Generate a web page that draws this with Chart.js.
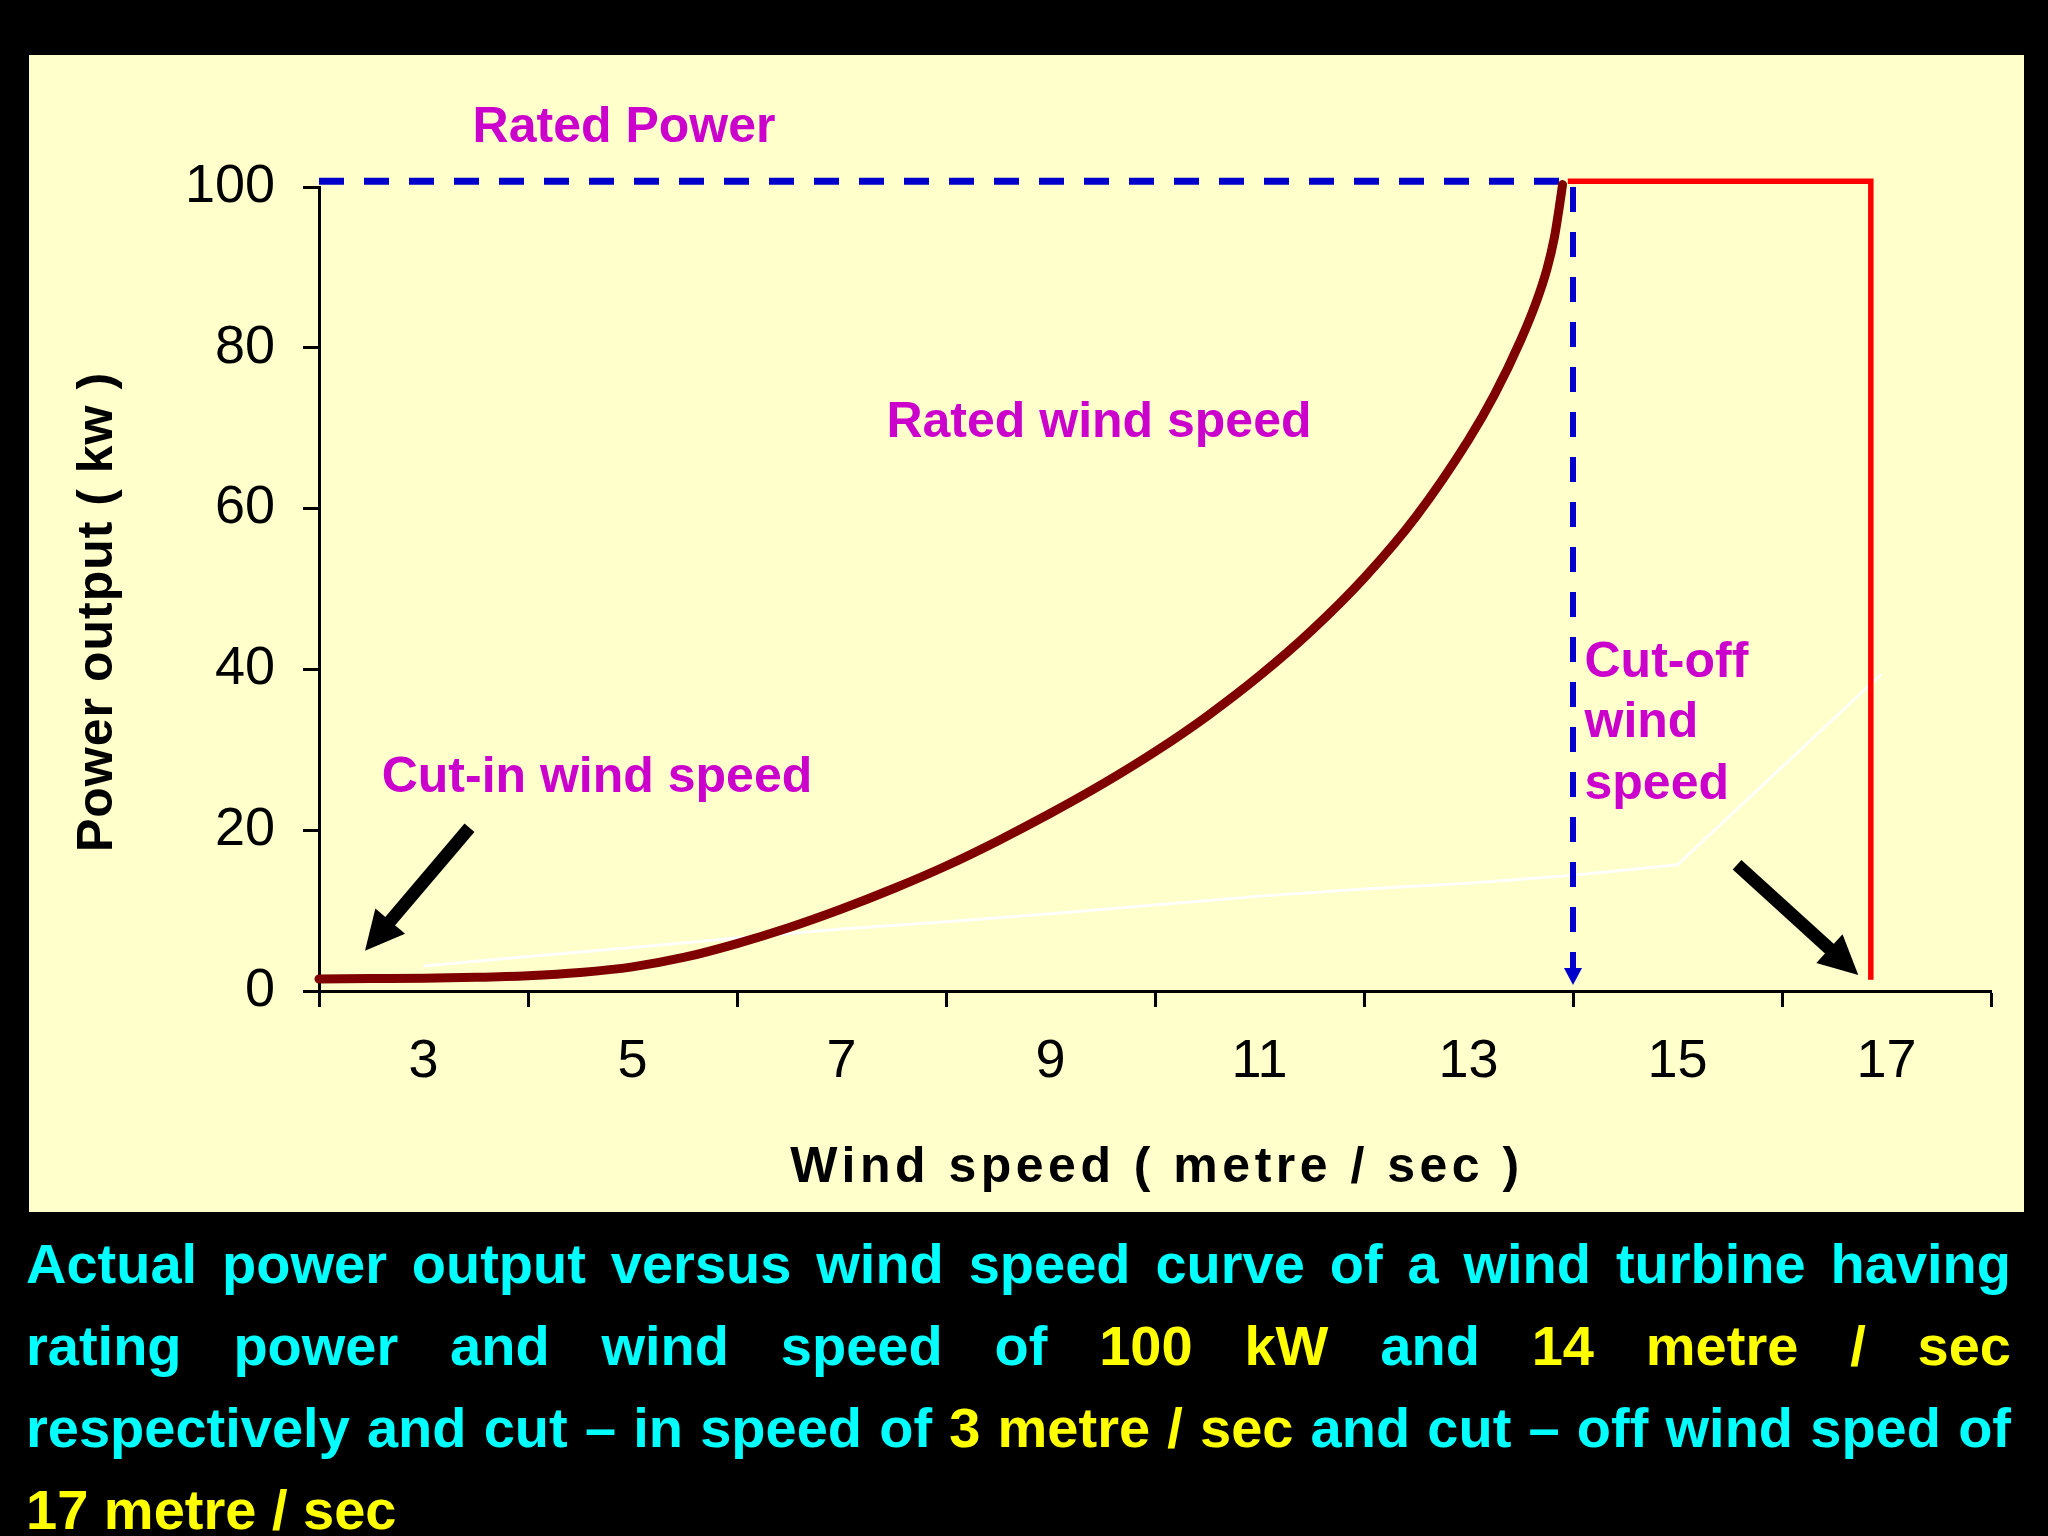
<!DOCTYPE html>
<html><head><meta charset="utf-8">
<script src="https://cdn.jsdelivr.net/npm/chart.js@4.4.0/dist/chart.umd.min.js"></script>
<style>
html,body{margin:0;padding:0;background:#000;width:2048px;height:1536px;overflow:hidden;}
#panel{position:absolute;left:29px;top:55px;width:1995px;height:1157px;background:#ffffcc;}
#chart{display:block;}
#caption{position:absolute;left:26px;top:1223px;width:1985px;font-family:"Liberation Sans",Arial,sans-serif;font-weight:bold;font-size:56px;line-height:82px;color:#00ffff;}
#caption .l{text-align:justify;text-align-last:justify;}
#caption .last{text-align:left;}
#caption .y{color:#ffff00;}
</style>
</head><body>
<div id="panel"><canvas id="chart" width="1995" height="1157"></canvas></div>
<div id="caption">
<div class="l">Actual power output versus wind speed curve of a wind turbine having</div>
<div class="l">rating power and wind speed of <span class="y">100 kW</span> and <span class="y">14 metre / sec</span></div>
<div class="l">respectively and cut – in speed of <span class="y">3 metre / sec</span> and cut – off wind sped of</div>
<div class="last"><span class="y">17 metre / sec</span></div>
</div>
<script>
// ---- data ----
const xTickValues = [3, 5, 7, 9, 11, 13, 15, 17];
const windSpeed   = [2, 2.5, 3, 3.5, 4, 4.5, 5, 5.5, 6, 6.5, 7, 7.5, 8, 8.5, 9, 9.5, 10, 10.5, 11, 11.5, 12, 12.5, 13, 13.25, 13.5, 13.65, 13.75, 13.82, 13.87, 13.9];
const powerOutput = [1.5, 1.55, 1.6, 1.7, 1.9, 2.3, 3.0, 4.2, 5.9, 7.9, 10.2, 12.75, 15.55, 18.7, 22.1, 25.75, 29.75, 34.2, 39.2, 44.85, 51.35, 59.05, 68.55, 74.2, 80.95, 85.75, 89.75, 93.6, 97.6, 100.3];
const ratedPowerX = [2, 13.9];
const ratedPowerY = [100.7, 100.7];
const ratedSpeedX = [14, 14];
const ratedSpeedY = [100, 0.75];
const cutOffX = [13.95, 16.85, 16.85];
const cutOffY = [100.7, 100.7, 1.4];
const faintX = [3, 4, 5, 6, 7, 8, 9, 10, 11, 12, 13, 14, 15, 16.95];
const faintY = [3.1, 4.3, 5.4, 6.6, 7.7, 8.6, 9.6, 10.7, 11.8, 12.7, 13.4, 14.4, 15.7, 39.4];
const cutInArrowX = [3.44, 2.44];
const cutInArrowY = [20.3, 5.0];
const cutOffArrowX = [15.57, 16.73];
const cutOffArrowY = [15.7, 2.0];

const notes = [
  {text: 'Rated Power', x: 3.47, y: 105.6},
  {text: 'Rated wind speed', x: 7.43, y: 68.9},
  {text: 'Cut-in wind speed', x: 2.60, y: 24.75},
  {text: 'Cut-off', x: 14.11, y: 39.05},
  {text: 'wind', x: 14.11, y: 31.6},
  {text: 'speed', x: 14.11, y: 23.9}
];

const FONT = '"Liberation Sans", Arial, Helvetica, sans-serif';
function pts(xs, ys) { return xs.map((v, i) => ({x: v, y: ys[i]})); }

function drawArrow(ctx, x1, y1, x2, y2, shaftW, headL, headW, color) {
  const a = Math.atan2(y2 - y1, x2 - x1);
  const c = Math.cos(a), s = Math.sin(a);
  const bx = x2 - headL * c, by = y2 - headL * s;
  ctx.strokeStyle = color; ctx.fillStyle = color;
  if (shaftW > 0) {
    ctx.lineWidth = shaftW; ctx.lineCap = 'butt'; ctx.setLineDash([]);
    ctx.beginPath(); ctx.moveTo(x1, y1); ctx.lineTo(bx + c, by + s); ctx.stroke();
  }
  ctx.beginPath();
  ctx.moveTo(x2, y2);
  ctx.lineTo(bx - s * headW / 2, by + c * headW / 2);
  ctx.lineTo(bx + s * headW / 2, by - c * headW / 2);
  ctx.closePath(); ctx.fill();
}

const overlay = {
  id: 'overlay',
  afterDatasetsDraw(chart) {
    const ctx = chart.ctx, xs = chart.scales.x, ys = chart.scales.y, a = chart.chartArea;
    ctx.save();
    chart.data.datasets.forEach((ds, i) => {
      const p = chart.getDatasetMeta(i).data;
      if (ds.arrowHead) {
        const p1 = p[p.length - 2], p2 = p[p.length - 1];
        drawArrow(ctx, p1.x, p1.y, p2.x, p2.y, 0, ds.arrowHead.length, ds.arrowHead.width, ds.borderColor);
      }
      if (ds.blackArrow) {
        drawArrow(ctx, p[0].x, p[0].y, p[1].x, p[1].y, 13, 39, 39, '#000000');
      }
    });
    // annotations
    ctx.font = 'bold 50px ' + FONT;
    ctx.fillStyle = '#cc00cc';
    ctx.textAlign = 'left'; ctx.textBaseline = 'alphabetic';
    notes.forEach(n => ctx.fillText(n.text, xs.getPixelForValue(n.x), ys.getPixelForValue(n.y)));
    // axis titles
    ctx.fillStyle = '#000000';
    ctx.font = 'bold 50px ' + FONT;
    ctx.letterSpacing = '4.5px';
    ctx.textAlign = 'center';
    ctx.fillText('Wind speed ( metre / sec )', (a.left + a.right) / 2 + 2, a.bottom + 191);
    ctx.letterSpacing = '1px';
    ctx.translate(a.left - 207, (a.top + a.bottom) / 2 + 23);
    ctx.rotate(-Math.PI / 2);
    ctx.fillText('Power output ( kw )', 0, 0);
    ctx.restore();
  }
};

const lineBase = {showLine: true, pointRadius: 0, pointHoverRadius: 0, clip: false, fill: false};

new Chart(document.getElementById('chart'), {
  type: 'scatter',
  data: {
    datasets: [
      Object.assign({}, lineBase, {label: 'Power output', data: pts(windSpeed, powerOutput),
        borderColor: '#7f0000', borderWidth: 9, cubicInterpolationMode: 'monotone', borderCapStyle: 'round', borderJoinStyle: 'round'}),
      Object.assign({}, lineBase, {label: 'Rated power', data: pts(ratedPowerX, ratedPowerY),
        borderColor: '#0000cc', borderWidth: 7, borderDash: [25, 20]}),
      Object.assign({}, lineBase, {label: 'Rated wind speed', data: pts(ratedSpeedX, ratedSpeedY),
        borderColor: '#0000cc', borderWidth: 6, borderDash: [25, 20], arrowHead: {length: 17, width: 18}}),
      Object.assign({}, lineBase, {label: 'Cut-off', data: pts(cutOffX, cutOffY),
        borderColor: '#ff0000', borderWidth: 5.5, borderJoinStyle: 'miter'}),
      Object.assign({}, lineBase, {label: 'Cut-in arrow', data: pts(cutInArrowX, cutInArrowY),
        showLine: false, borderColor: '#000000', blackArrow: true}),
      Object.assign({}, lineBase, {label: 'Cut-off arrow', data: pts(cutOffArrowX, cutOffArrowY),
        showLine: false, borderColor: '#000000', blackArrow: true}),
      Object.assign({}, lineBase, {label: 'Faint', data: pts(faintX, faintY),
        borderColor: 'rgba(255,255,255,0.95)', borderWidth: 3, tension: 0})
    ]
  },
  options: {
    responsive: false, animation: false, devicePixelRatio: 1, events: [],
    layout: {padding: {top: 132, right: 33, left: 0, bottom: 0}},
    plugins: {legend: {display: false}, tooltip: {enabled: false}},
    scales: {
      x: {
        type: 'linear', min: 2, max: 18,
        afterFit(s) { s.height = 221; },
        afterBuildTicks(s) { s.ticks = []; for (let v = 2; v <= 18; v++) s.ticks.push({value: v}); },
        ticks: {
          autoSkip: false, maxRotation: 0, padding: 23, color: '#000',
          font: {family: FONT, size: 54},
          callback: v => xTickValues.includes(v) ? String(v) : ''
        },
        grid: {display: true, drawOnChartArea: false, drawTicks: true, tickLength: 16, tickWidth: 3,
          tickColor: c => (c.tick && c.tick.value % 2 === 0) ? '#000' : 'rgba(0,0,0,0)'},
        border: {display: true, color: '#000', width: 3}
      },
      y: {
        type: 'linear', min: 0, max: 100,
        afterFit(s) { s.width = 290; },
        ticks: {stepSize: 20, padding: 28, color: '#000', font: {family: FONT, size: 54}},
        grid: {display: true, drawOnChartArea: false, drawTicks: true, tickLength: 16, tickWidth: 3, tickColor: '#000'},
        border: {display: true, color: '#000', width: 3}
      }
    }
  },
  plugins: [overlay]
});
</script>
</body></html>
